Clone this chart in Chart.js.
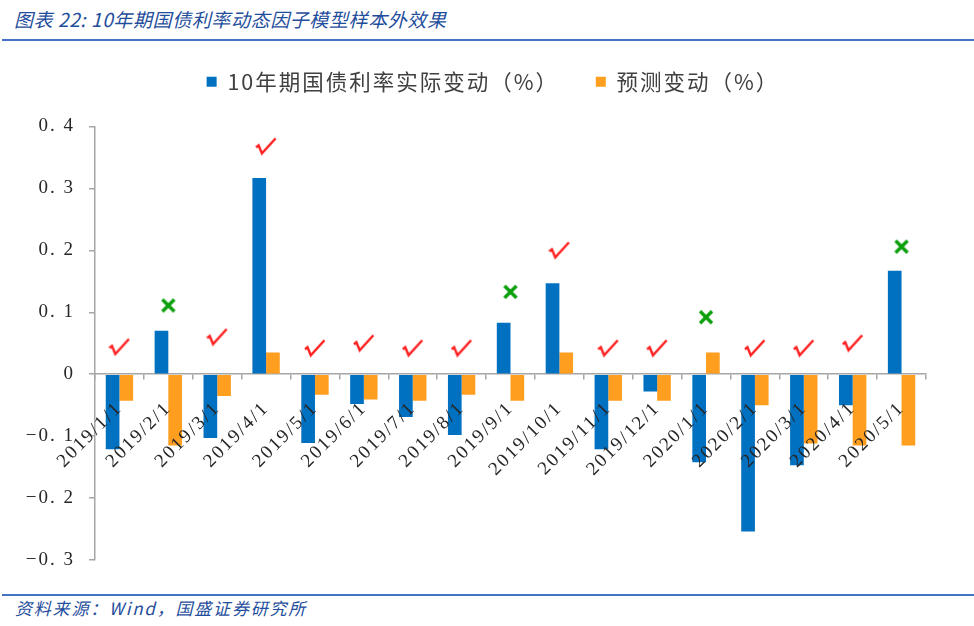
<!DOCTYPE html>
<html>
<head>
<meta charset="utf-8">
<script src="https://cdn.jsdelivr.net/npm/chart.js@4"></script>
<style>
  html, body { margin: 0; padding: 0; background: #fff; }
  body { width: 974px; height: 626px; position: relative; overflow: hidden; }
  #title { position: absolute; left: 14px; top: 5px; font: italic 19px "Noto Sans CJK SC", sans-serif; color: #1F4E9C; letter-spacing: 0.6px; white-space: nowrap; }
  #topline { position: absolute; left: 2px; right: 0; top: 39px; height: 2px; background: #4472C4; }
  #botline { position: absolute; left: 2px; right: 0; top: 594px; height: 2px; background: #4472C4; }
  #source { position: absolute; left: 15px; top: 595px; font: italic 17px "Noto Sans CJK SC", sans-serif; color: #1F4E9C; letter-spacing: 1.8px; white-space: nowrap; }
  #wrap { position: absolute; left: 0; top: 45px; width: 974px; height: 545px; }
</style>
</head>
<body>
<div id="title">图表 22: 10年期国债利率动态因子模型样本外效果</div>
<div id="topline"></div>
<div id="wrap"><canvas id="c" width="974" height="545"></canvas></div>
<div id="botline"></div>
<div id="source">资料来源：Wind，国盛证券研究所</div>
<script>
const categories = ['2019/1/1','2019/2/1','2019/3/1','2019/4/1','2019/5/1','2019/6/1','2019/7/1','2019/8/1','2019/9/1','2019/10/1','2019/11/1','2019/12/1','2020/1/1','2020/2/1','2020/3/1','2020/4/1','2020/5/1'];
const actualChange = [-0.121, 0.070, -0.103, 0.317, -0.111, -0.048, -0.069, -0.098, 0.083, 0.147, -0.121, -0.028, -0.142, -0.254, -0.147, -0.050, 0.167];
const forecastChange = [-0.043, -0.115, -0.035, 0.035, -0.033, -0.041, -0.043, -0.033, -0.043, 0.035, -0.043, -0.043, 0.035, -0.050, -0.112, -0.115, -0.115];
const markValues = [0.044, 0.111, 0.060, 0.368, 0.042, 0.050, 0.042, 0.042, 0.133, 0.200, 0.042, 0.042, 0.092, 0.042, 0.042, 0.050, 0.206];
const markTypes = ['check','cross','check','check','check','check','check','check','cross','check','check','check','cross','check','check','check','cross'];
const yTickLabels = ['−0. 3','−0. 2','−0. 1','0','0. 1','0. 2','0. 3','0. 4'];
const seriesNames = ['10年期国债利率实际变动（%）', '预测变动（%）'];

function makeCheck() {
  const c = document.createElement('canvas');
  c.width = 22; c.height = 19;
  const g = c.getContext('2d');
  g.strokeStyle = '#FF1F1F'; g.lineWidth = 2.4; g.lineJoin = 'miter'; g.lineCap = 'butt';
  g.beginPath();
  g.moveTo(1, 10.5); g.lineTo(3.5, 8.5); g.lineTo(6.8, 16.5); g.lineTo(20.5, 1.5);
  g.stroke();
  return c;
}
function makeCross() {
  const c = document.createElement('canvas');
  c.width = 16; c.height = 16;
  const g = c.getContext('2d');
  g.strokeStyle = '#0A9E0A'; g.lineWidth = 3.4; g.lineCap = 'butt';
  g.beginPath();
  g.moveTo(2, 2); g.lineTo(14, 14); g.moveTo(14, 2); g.lineTo(2, 14);
  g.stroke();
  return c;
}
const checkImg = makeCheck();
const crossImg = makeCross();

const spacing = {
  id: 'spacing',
  beforeUpdate(chart) { chart.ctx.letterSpacing = '2px'; },
  beforeLayout(chart) {
    chart.ctx.letterSpacing = '2px';
    const lg = chart.legend;
    if (lg && !lg._patched) {
      const f = lg.fit;
      lg.fit = function () { f.call(this); this.height += 24; };
      const d = lg.draw;
      lg.draw = function (area) {
        const c = this.ctx;
        c.save(); c.translate(30, 0); d.call(this, area); c.restore();
      };
      lg._patched = true;
    }
  },
  beforeDraw(chart) { chart.ctx.letterSpacing = '2px'; }
};

const axisColor = '#A6A6A6';
const ctx = document.getElementById('c').getContext('2d');
new Chart(ctx, {
  data: {
    labels: categories,
    datasets: [
      { type: 'bar', label: seriesNames[0] + '　', data: actualChange, backgroundColor: '#0070C0', categoryPercentage: 0.56, barPercentage: 1.0, order: 2 },
      { type: 'bar', label: seriesNames[1], data: forecastChange, backgroundColor: '#FF9E1F', categoryPercentage: 0.56, barPercentage: 1.0, order: 2 },
      { type: 'line', label: 'marks', data: markValues, showLine: false, order: 0,
        pointStyle: (c) => markTypes[c.dataIndex] === 'check' ? checkImg : crossImg,
        pointRadius: 8, pointHoverRadius: 8 }
    ]
  },
  options: {
    responsive: false,
    animation: false,
    layout: { padding: { left: 0, right: 48, top: 2, bottom: 30 } },
    plugins: {
      legend: {
        position: 'top',
        labels: {
          boxWidth: 10, boxHeight: 10, padding: 24,
          color: '#404040',
          font: { family: '"Noto Sans CJK SC", sans-serif', size: 21.5 },
          filter: (item) => item.datasetIndex < 2
        }
      },
      tooltip: { enabled: false }
    },
    scales: {
      x: {
        type: 'category',
        position: { y: 0 },
        offset: true,
        grid: { display: true, offset: true, drawOnChartArea: false, drawTicks: true, tickLength: 5, color: axisColor, lineWidth: 1.5 },
        border: { display: true, color: axisColor, width: 1.5 },
        ticks: { z: 1, minRotation: 45, maxRotation: 45, autoSkip: false, padding: 18, color: '#262626',
          font: { family: '"Liberation Serif", serif', size: 19 } }
      },
      y: {
        position: 'left',
        min: -0.3, max: 0.4,
        afterFit(scale) { scale.width = 95; },
        grid: { display: true, drawOnChartArea: false, drawTicks: true, tickLength: 6, color: axisColor, lineWidth: 1.5 },
        border: { display: true, color: axisColor, width: 1.5 },
        ticks: { stepSize: 0.1, padding: 14, color: '#262626',
          font: { family: '"Liberation Serif", serif', size: 19 },
          callback: (v, i) => yTickLabels[i] }
      }
    }
  },
  plugins: [spacing]
});
</script>
</body>
</html>
